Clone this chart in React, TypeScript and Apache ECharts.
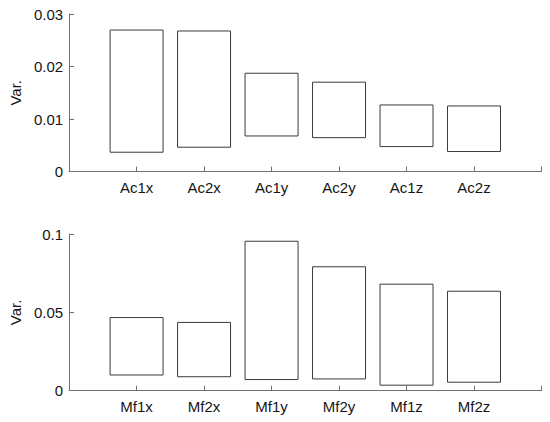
import React, { useEffect, useRef } from "react";
import * as echarts from "echarts";

const acCategories = ["", "Ac1x", "Ac2x", "Ac1y", "Ac2y", "Ac1z", "Ac2z", ""];
const acLow = [null, 0.00358, 0.00453, 0.00667, 0.00635, 0.00465, 0.00371, null];
const acHigh = [null, 0.02704, 0.02686, 0.01881, 0.01711, 0.01277, 0.01258, null];

const mfCategories = ["", "Mf1x", "Mf2x", "Mf1y", "Mf2y", "Mf1z", "Mf2z", ""];
const mfLow = [null, 0.0097, 0.0086, 0.0068, 0.0072, 0.0032, 0.0051, null];
const mfHigh = [null, 0.0470, 0.0439, 0.0957, 0.0794, 0.0683, 0.0638, null];

const acTicks = { min: 0, max: 0.03, interval: 0.01 };
const mfTicks = { min: 0, max: 0.1, interval: 0.05 };

const FONT = "Liberation Sans, Arial, Helvetica, sans-serif";
const TEXT = "#161616";
const AXIS = "#707070";
const EDGE = "#3a3a3a";

function diff(low: (number | null)[], high: (number | null)[]) {
  return high.map((h, i) => (h == null || low[i] == null ? null : (h as number) - (low[i] as number)));
}

export default function App() {
  const ref = useRef<HTMLDivElement>(null);
  useEffect(() => {
    if (!ref.current) return;
    const chart = echarts.init(ref.current, undefined, { renderer: "svg" });
    const xAxisBase = (cats: string[], gridIndex: number) => ({
      type: "category" as const,
      gridIndex,
      data: cats,
      boundaryGap: false,
      axisLine: { lineStyle: { color: AXIS, width: 1 } },
      axisTick: { inside: true, length: 5, lineStyle: { color: AXIS } },
      axisLabel: { color: TEXT, fontSize: 15, fontFamily: FONT, margin: 8 },
      splitLine: { show: false },
    });
    const yAxisBase = (t: { min: number; max: number; interval: number }, gridIndex: number) => ({
      type: "value" as const,
      gridIndex,
      min: t.min,
      max: t.max,
      interval: t.interval,
      name: "Var.",
      nameLocation: "middle" as const,
      nameGap: 42,
      nameTextStyle: { color: TEXT, fontSize: 15, fontFamily: FONT },
      axisLine: { show: true, lineStyle: { color: AXIS, width: 1 } },
      axisTick: { show: true, inside: true, length: 5, lineStyle: { color: AXIS } },
      axisLabel: { color: TEXT, fontSize: 15, fontFamily: FONT, margin: 6 },
      splitLine: { show: false },
    });
    const barStyle = { color: "#ffffff", borderColor: EDGE, borderWidth: 1 };
    const baseStyle = { color: "rgba(0,0,0,0)", borderWidth: 0 };
    chart.setOption({
      animation: false,
      backgroundColor: "#ffffff",
      grid: [
        { left: 63.5, right: 8.5, top: 14, height: 157.5 },
        { left: 63.5, right: 8.5, top: 234, height: 156.7 },
      ],
      xAxis: [xAxisBase(acCategories, 0), xAxisBase(mfCategories, 1)],
      yAxis: [yAxisBase(acTicks, 0), yAxisBase(mfTicks, 1)],
      series: [
        { type: "bar", xAxisIndex: 0, yAxisIndex: 0, stack: "ac", data: acLow, barWidth: "80%", itemStyle: baseStyle, silent: true },
        { type: "bar", xAxisIndex: 0, yAxisIndex: 0, stack: "ac", data: diff(acLow, acHigh), barWidth: "80%", itemStyle: barStyle },
        { type: "bar", xAxisIndex: 1, yAxisIndex: 1, stack: "mf", data: mfLow, barWidth: "80%", itemStyle: baseStyle, silent: true },
        { type: "bar", xAxisIndex: 1, yAxisIndex: 1, stack: "mf", data: diff(mfLow, mfHigh), barWidth: "80%", itemStyle: barStyle },
      ],
    });
    return () => chart.dispose();
  }, []);
  return <div ref={ref} style={{ position: "fixed", left: 0, top: 0, width: 550, height: 422 }} />;
}
